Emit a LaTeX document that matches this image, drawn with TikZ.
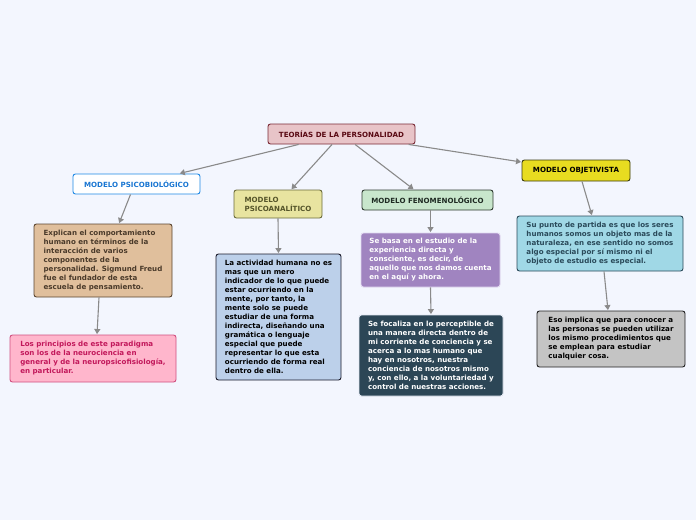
\documentclass[tikz,border=0pt]{standalone}
\usepackage{fontspec}
\setmainfont{DejaVu Sans}
\usetikzlibrary{arrows.meta}
\definecolor{bg}{HTML}{F3F6FE}
\definecolor{arr}{HTML}{8A8A8A}
\definecolor{rootB}{HTML}{7A2A36}\definecolor{rootF}{HTML}{E8C4C8}\definecolor{rootT}{HTML}{5A0A14}
\definecolor{pbB}{HTML}{1E88E5}\definecolor{pbT}{HTML}{1976D2}
\definecolor{paB}{HTML}{6B6B3A}\definecolor{paF}{HTML}{E8E4A0}\definecolor{paT}{HTML}{55552A}
\definecolor{feB}{HTML}{2E3A30}\definecolor{feF}{HTML}{C8E6CC}\definecolor{feT}{HTML}{1E2A22}
\definecolor{obB}{HTML}{3A3A10}\definecolor{obF}{HTML}{E8DC20}
\definecolor{brB}{HTML}{5A4530}\definecolor{brF}{HTML}{E0BF9C}\definecolor{brT}{HTML}{4A3A2A}
\definecolor{pkB}{HTML}{D05080}\definecolor{pkF}{HTML}{FFB6CC}\definecolor{pkT}{HTML}{C2185B}
\definecolor{blB}{HTML}{1A1A2A}\definecolor{blF}{HTML}{BCD0EA}
\definecolor{puB}{HTML}{E1D7F0}\definecolor{puF}{HTML}{A084C0}
\definecolor{dkB}{HTML}{E1E6F0}\definecolor{dkF}{HTML}{2C4656}
\definecolor{cyB}{HTML}{2A4A5A}\definecolor{cyF}{HTML}{A0D8E6}\definecolor{cyT}{HTML}{2A4A5A}
\definecolor{grB}{HTML}{222222}\definecolor{grF}{HTML}{C4C4C4}
\tikzset{
 box/.style={draw=#1, rounded corners=2.5pt, line width=0.9pt, font=\fontsize{7.1}{9.0}\selectfont\bfseries, align=left, inner sep=0pt, anchor=center},
 conn/.style={draw=arr, line width=1.1pt, -{Triangle[length=5pt,width=6pt]}, shorten >=0.5pt},
}
\begin{document}
\begin{tikzpicture}[x=1pt,y=-1pt]
\fill[bg] (0,0) rectangle (696,520);
\useasboundingbox (0,0) rectangle (696,520);
\node[box=rootB, fill=rootF, text=rootT, minimum width=147pt, minimum height=20pt] (root) at (341.5,134) {TEORÍAS DE LA PERSONALIDAD};
\node[box=pbB, fill=white, text=pbT, minimum width=127pt, minimum height=20pt] (pb) at (136.5,184) {MODELO PSICOBIOLÓGICO};
\node[box=paB, fill=paF, text=paT, minimum width=88pt, minimum height=28pt] (pa) at (278,204) {MODELO\\PSICOANALÍTICO};
\node[box=feB, fill=feF, text=feT, minimum width=131pt, minimum height=20pt] (fe) at (427.5,200) {MODELO FENOMENOLÓGICO};
\node[box=obB, fill=obF, text=black, minimum width=108pt, minimum height=21pt] (ob) at (576,170.5) {MODELO OBJETIVISTA};
\node[box=brB, fill=brF, text=brT, minimum width=138pt, minimum height=73pt] (br) at (103,260.5) {Explican el comportamiento\\humano en términos de la\\interacción de varios\\componentes de la\\personalidad. Sigmund Freud\\fue el fundador de esta\\escuela de pensamiento.};
\node[box=pkB, fill=pkF, text=pkT, minimum width=166pt, minimum height=47pt] (pk) at (93,358.5) {Los principios de este paradigma\\son los de la neurociencia en\\general y de la neuropsicofisiología,\\en particular.};
\node[box=blB, fill=blF, text=black, minimum width=125pt, minimum height=126pt] (bl) at (278.5,317) {La actividad humana no es\\mas que un mero\\indicador de lo que puede\\estar ocurriendo en la\\mente, por tanto, la\\mente solo se puede\\estudiar de una forma\\indirecta, diseñando una\\gramática o lenguaje\\especial que puede\\representar lo que esta\\ocurriendo de forma real\\dentro de ella.};
\node[box=puB, fill=puF, text=white, minimum width=139pt, minimum height=54pt] (pu) at (430.5,260) {Se basa en el estudio de la\\experiencia directa y\\consciente, es decir, de\\aquello que nos damos cuenta\\en el aquí y ahora.};
\node[box=dkB, fill=dkF, text=white, minimum width=144pt, minimum height=81pt] (dk) at (431,355.5) {Se focaliza en lo perceptible de\\una manera directa dentro de\\mi corriente de conciencia y se\\acerca a lo mas humano que\\hay en nosotros, nuestra\\conciencia de nosotros mismo\\y, con ello, a la voluntariedad y\\control de nuestras acciones.};
\node[box=cyB, fill=cyF, text=cyT, minimum width=166pt, minimum height=55pt] (cy) at (600,243.5) {Su punto de partida es que los seres\\humanos somos un objeto mas de la\\naturaleza, en ese sentido no somos\\algo especial por sí mismo ni el\\objeto de estudio es especial.};
\node[box=grB, fill=grF, text=black, minimum width=148pt, minimum height=56pt] (gr) at (611,339) {Eso implica que para conocer a\\las personas se pueden utilizar\\los mismo procedimientos que\\se emplean para estudiar\\cualquier cosa.};
\draw[conn] (root) -- (pb);
\draw[conn] (root) -- (pa);
\draw[conn] (root) -- (fe);
\draw[conn] (root) -- (ob);
\draw[conn] ([xshift=-6pt]pb.south) -- ([xshift=16pt]br.north);
\draw[conn] ([xshift=-4pt]br.south) -- ([xshift=4pt]pk.north);
\draw[conn] (pa.south) -- (bl.north);
\draw[conn] ([xshift=3pt]fe.south) -- (pu.north);
\draw[conn] (pu.south) -- (dk.north);
\draw[conn] ([xshift=6pt]ob.south) -- ([xshift=-8pt]cy.north);
\draw[conn] ([xshift=4pt]cy.south) -- ([xshift=-3pt]gr.north);
\end{tikzpicture}
\end{document}
